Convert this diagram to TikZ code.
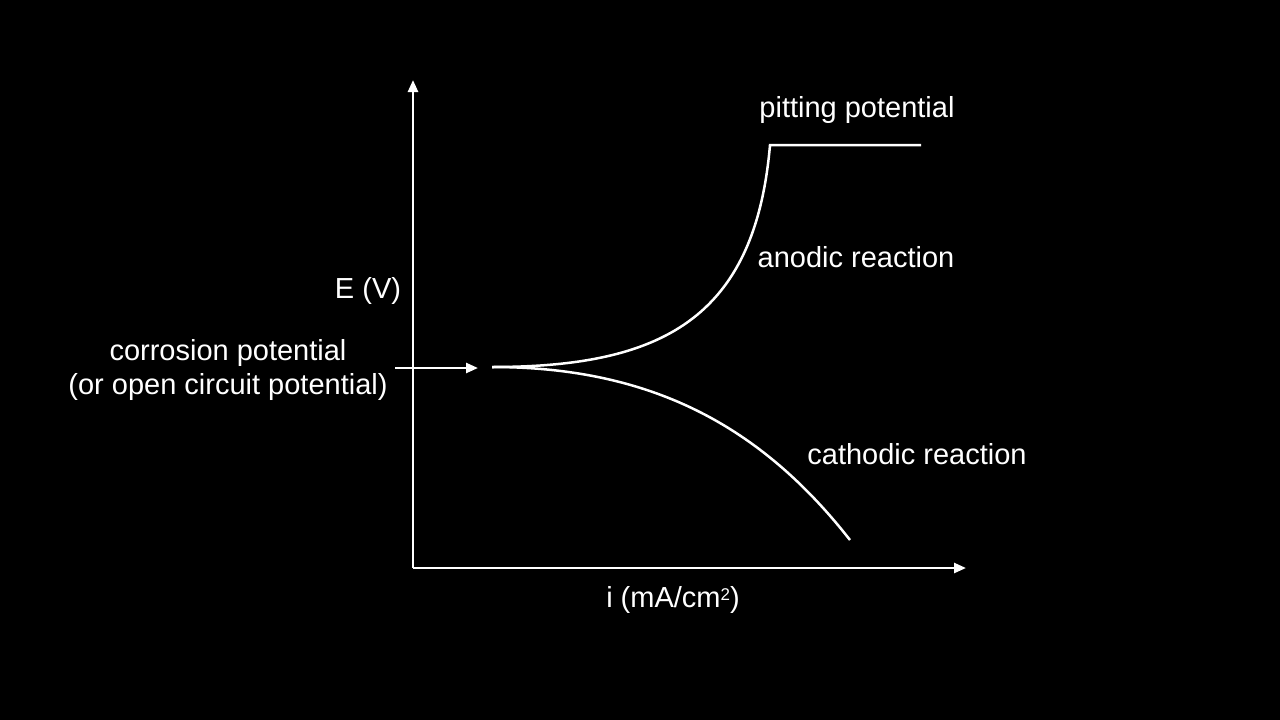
\documentclass[tikz,border=0pt]{standalone}
\usepackage{fontspec}
\setmainfont{Liberation Sans}
\usetikzlibrary{arrows.meta}
\begin{document}
\begin{tikzpicture}[x=1pt,y=-1pt,
  ln/.style={white,line width=2.5pt},
  ax/.style={ln,-{Triangle[length=12pt,width=10pt]}},
  lbl/.style={white,font=\fontsize{29}{34}\selectfont,inner sep=0pt}]
\fill[black] (0,0) rectangle (1280,720);
\useasboundingbox (0,0) rectangle (1280,720);
\coordinate (o) at (413,568);
\coordinate (ytop) at (413,80);
\coordinate (xend) at (966,568);
\draw[ax] (o) -- (ytop);
\draw[ax] (o) -- (xend);
\coordinate (as) at (395,368);
\coordinate (ae) at (478,368);
\draw[ax] (as) -- (ae);
\coordinate (s) at (492,367);
\coordinate (p) at (770,145);
\coordinate (pe) at (921,145);
\coordinate (c) at (850,540);
\draw[ln] (s) .. controls (660,367) and (755,320) .. (p) -- (pe);
\draw[ln] (s) .. controls (650,367) and (760,425) .. (c);
\node[lbl] (E) at (368,291) {E (V)};
\node[lbl,align=center] (corr) at (228,370) {corrosion potential\\(or open circuit potential)};
\node[lbl] (an) at (856,257) {anodic reaction};
\node[lbl] (ca) at (917,454) {cathodic reaction};
\node[lbl] (pit) at (857,110) {pitting potential};
\node[lbl] (i) at (673,600) {i (mA/cm{\fontsize{17}{17}\selectfont\raisebox{7pt}{2}})};
\end{tikzpicture}
\end{document}
